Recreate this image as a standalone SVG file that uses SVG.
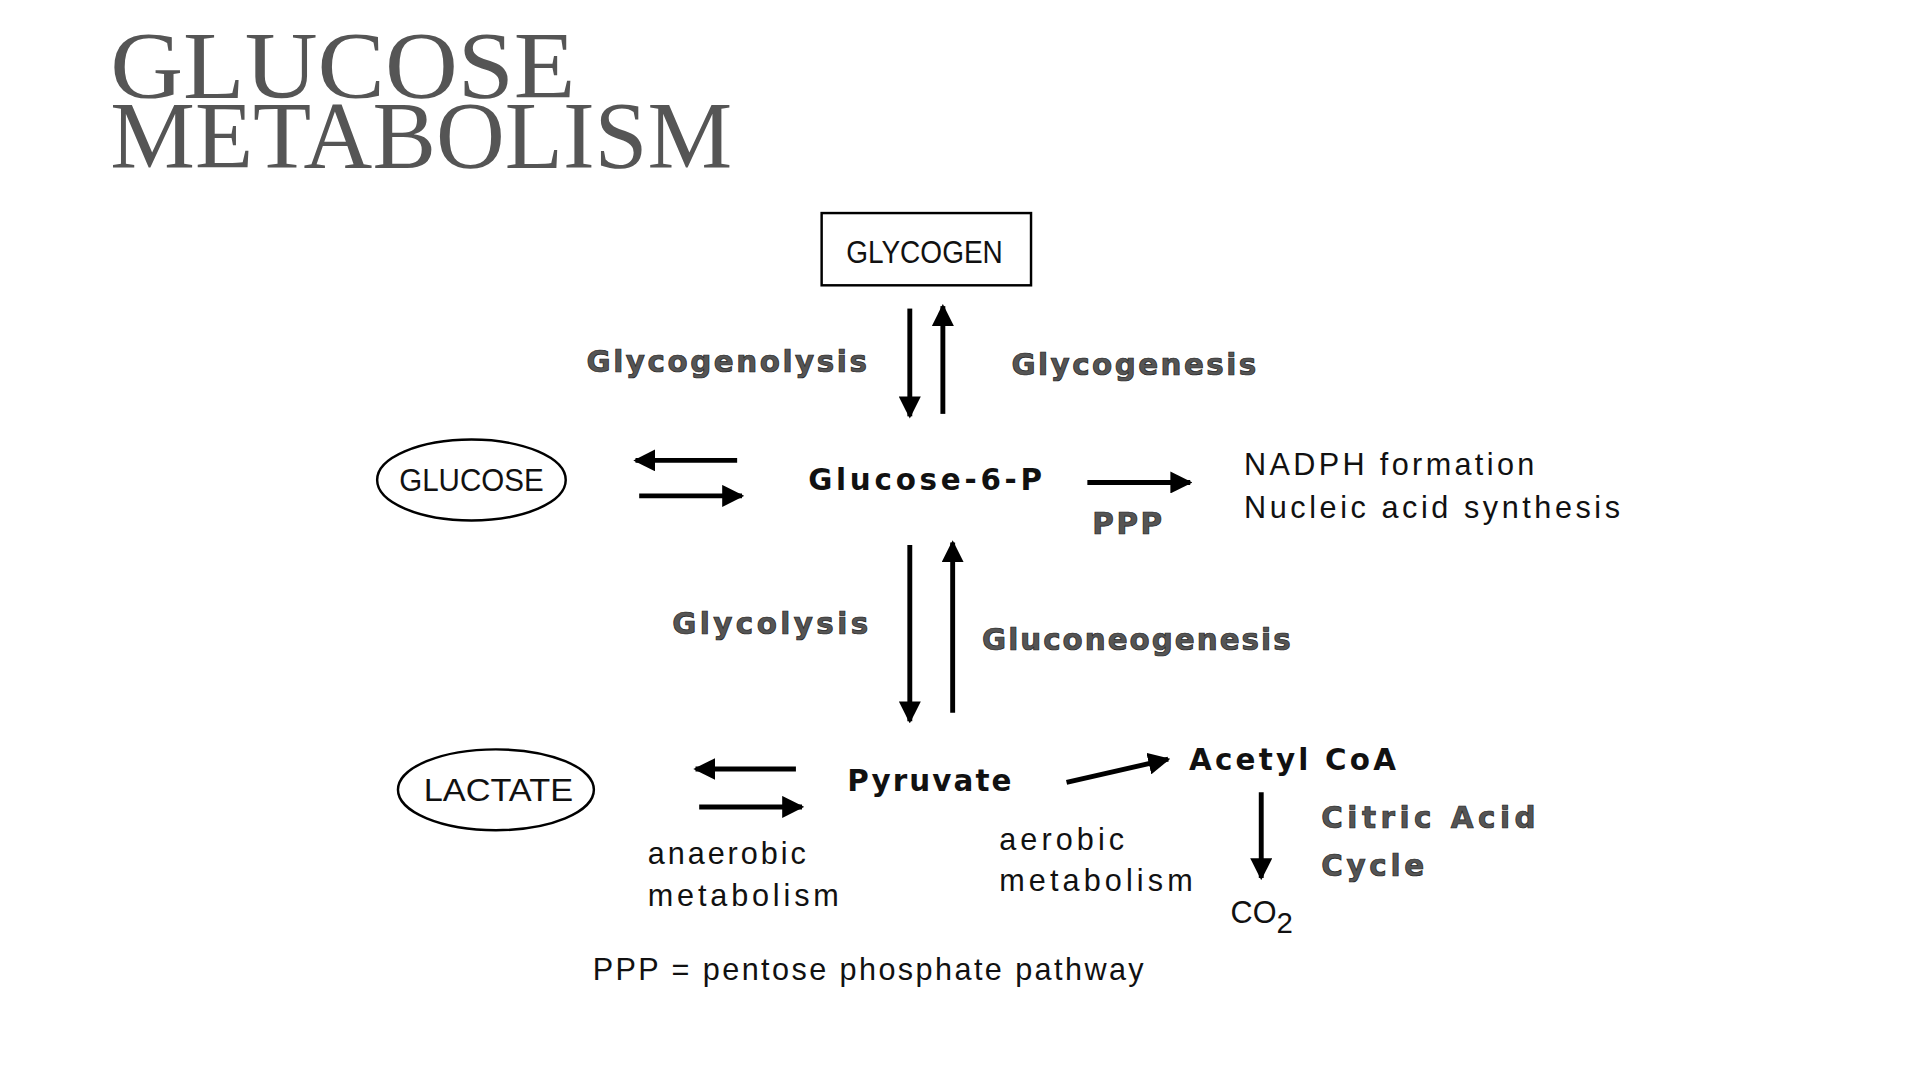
<svg xmlns="http://www.w3.org/2000/svg" width="1920" height="1080" viewBox="0 0 1920 1080">
<style>
.t{font-family:"Liberation Sans",Arial,sans-serif;font-size:25px;fill:#111}
.b{font-family:"DejaVu Sans",sans-serif;font-weight:bold;font-size:24px;fill:#555;stroke:#222;stroke-width:0.6;letter-spacing:1px}
.k{font-family:"DejaVu Sans",sans-serif;font-weight:bold;font-size:24px;fill:#111;letter-spacing:1px}
.ttl{font-family:"Liberation Serif",serif;font-size:78px;fill:#555}
.ln{stroke:#000;stroke-width:4;fill:none}
</style>
<defs><marker id="a" viewBox="0 0 10 10" refX="9" refY="5" markerWidth="4.5" markerHeight="4.5" orient="auto-start-reverse" markerUnits="strokeWidth"><path d="M0,0L10,5L0,10z" fill="#000"/></marker></defs>
<rect width="1920" height="1080" fill="#fff"/>
<g transform="scale(1.2245)">
<g id="title"><text class="ttl" x="90" y="80" textLength="380" lengthAdjust="spacingAndGlyphs">GLUCOSE</text><text class="ttl" x="90" y="137" textLength="508" lengthAdjust="spacingAndGlyphs">METABOLISM</text></g>
<g id="glycogen"><rect x="671" y="174" width="171" height="59" fill="none" stroke="#000" stroke-width="2"/><text class="t" x="755" y="215" text-anchor="middle" font-size="23" textLength="128" lengthAdjust="spacingAndGlyphs">GLYCOGEN</text></g>
<g id="glucose"><ellipse cx="385" cy="392" rx="77" ry="33" fill="none" stroke="#000" stroke-width="2"/><text class="t" x="385" y="401" text-anchor="middle" font-size="24" textLength="118" lengthAdjust="spacingAndGlyphs">GLUCOSE</text></g>
<g id="lactate"><ellipse cx="405" cy="645" rx="80" ry="33" fill="none" stroke="#000" stroke-width="2"/><text class="t" x="407" y="654" text-anchor="middle" font-size="24" textLength="122" lengthAdjust="spacingAndGlyphs">LACTATE</text></g>
<g id="g6p"><text class="k" x="660" y="400" textLength="192" lengthAdjust="spacing">Glucose-6-P</text></g>
<g id="pyruvate"><text class="k" x="692" y="646" textLength="135" lengthAdjust="spacing">Pyruvate</text></g>
<g id="acetyl"><text class="k" x="971" y="629" textLength="170" lengthAdjust="spacing">Acetyl  CoA</text></g>
<g id="co2"><text class="t" x="1005" y="754" font-size="26">CO<tspan font-size="24" dy="8">2</tspan></text></g>
<g id="nadph"><text class="t" x="1016" y="388" textLength="237" lengthAdjust="spacing">NADPH  formation</text><text class="t" x="1016" y="423" textLength="307" lengthAdjust="spacing">Nucleic  acid  synthesis</text></g>
<g id="labels">
<text class="b" x="479" y="304" textLength="230" lengthAdjust="spacing">Glycogenolysis</text>
<text class="b" x="826" y="306" textLength="201" lengthAdjust="spacing">Glycogenesis</text>
<text class="b" x="892" y="436" textLength="58" lengthAdjust="spacing">PPP</text>
<text class="b" x="549" y="518" textLength="161" lengthAdjust="spacing">Glycolysis</text>
<text class="b" x="802" y="531" textLength="253" lengthAdjust="spacing">Gluconeogenesis</text>
<text class="b" x="1079" y="676" textLength="176" lengthAdjust="spacing">Citric   Acid</text>
<text class="b" x="1079" y="715" textLength="85" lengthAdjust="spacing">Cycle</text>
<text class="t" x="529" y="706" textLength="129" lengthAdjust="spacing">anaerobic</text><text class="t" x="529" y="740" textLength="156" lengthAdjust="spacing">metabolism</text>
<text class="t" x="816" y="694" textLength="102" lengthAdjust="spacing">aerobic</text><text class="t" x="816" y="728" textLength="158" lengthAdjust="spacing">metabolism</text>
<text class="t" x="484" y="800" textLength="450" lengthAdjust="spacing">PPP  =  pentose  phosphate  pathway</text>
</g>
<g id="connectors" class="ln">
<line x1="743" y1="252" x2="743" y2="340" marker-end="url(#a)"/>
<line x1="770" y1="338" x2="770" y2="250" marker-end="url(#a)"/>
<line x1="602" y1="376" x2="519" y2="376" marker-end="url(#a)"/>
<line x1="522" y1="405" x2="606" y2="405" marker-end="url(#a)"/>
<line x1="888" y1="394" x2="972" y2="394" marker-end="url(#a)"/>
<line x1="743" y1="445" x2="743" y2="589" marker-end="url(#a)"/>
<line x1="778" y1="582" x2="778" y2="443" marker-end="url(#a)"/>
<line x1="650" y1="628" x2="568" y2="628" marker-end="url(#a)"/>
<line x1="571" y1="659" x2="655" y2="659" marker-end="url(#a)"/>
<line x1="871" y1="639" x2="954" y2="620" marker-end="url(#a)"/>
<line x1="1030" y1="647" x2="1030" y2="717" marker-end="url(#a)"/>
</g>
</g>
</svg>
